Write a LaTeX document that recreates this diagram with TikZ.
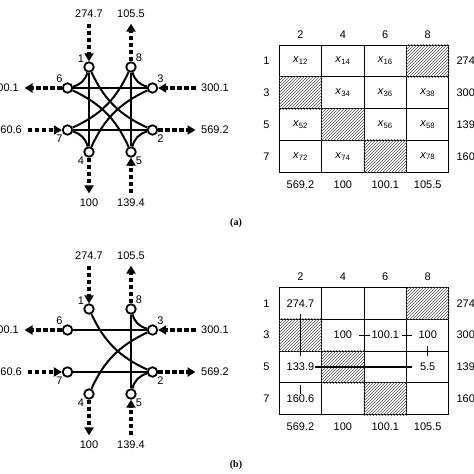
\documentclass[tikz,border=0pt]{standalone}
\usepackage{fontspec}
\setmainfont{Liberation Sans}
\newfontfamily\capfont{Liberation Serif}
\usetikzlibrary{arrows.meta,patterns,positioning}

\begin{document}
\begin{tikzpicture}[x=1pt, y=-1pt,
    junction/.style={circle, draw=black, fill=white, line width=1.8pt, minimum size=9.5pt, inner sep=0pt},
    route/.style={line width=2pt},
    flow/.style={line width=3.2pt, dash pattern=on 4.5pt off 2.5pt, -{Triangle[length=8pt, width=9pt]}},
    amount/.style={font=\fontsize{11}{13}\selectfont, inner sep=5.5pt},
    tag/.style={font=\fontsize{11}{13}\selectfont, inner sep=0pt},
    cell/.style={draw, line width=1pt, minimum width=42.4pt, minimum height=31.8pt, inner sep=0pt},
    blocked/.style={pattern=north east lines, pattern color=black!65},
    val/.style={font=\fontsize{11}{13}\selectfont, inner sep=1pt},
    chain/.style={line width=1.4pt},
    caption/.style={font=\capfont\bfseries\fontsize{10}{12}\selectfont}]

    \useasboundingbox (0,0) rectangle (474,474);

    % network (a)
    \node[junction, label={[tag, label distance=1pt]above left:1}] (a1) at (89,67) {};
    \node[junction, label={[tag, label distance=1pt]above right:8}] (a8) at (131,67) {};
    \node[junction, label={[tag, label distance=1pt]above left:6}] (a6) at (67.5,88) {};
    \node[junction, label={[tag, label distance=1pt]above right:3}] (a3) at (152.5,88) {};
    \node[junction, label={[tag, label distance=1pt]below left:7}] (a7) at (67.5,130) {};
    \node[junction, label={[tag, label distance=1pt]below right:2}] (a2) at (152.5,130) {};
    \node[junction, label={[tag, label distance=1pt]below left:4}] (a4) at (89,152) {};
    \node[junction, label={[tag, label distance=1pt]below right:5}] (a5) at (131,152) {};

    \path [route] (a1) edge (a4);
    \path [route] (a8) edge (a5);
    \path [route] (a6) edge (a3);
    \path [route] (a7) edge (a2);
    \path [route] (a1) edge[bend left=30] (a6);
    \path [route] (a1) edge[bend right=20] (a2);
    \path [route] (a8) edge[bend right=30] (a3);
    \path [route] (a8) edge[bend left=20] (a7);
    \path [route] (a4) edge[bend right=30] (a7);
    \path [route] (a4) edge[bend left=20] (a3);
    \path [route] (a5) edge[bend left=30] (a2);
    \path [route] (a5) edge[bend right=20] (a6);

    \node[amount] (a1in) at (89,14) {274.7};
    \node[amount] (a8out) at (131,14) {105.5};
    \node[amount, anchor=east] (a6out) at (24.5,88) {300.1};
    \node[amount, anchor=east] (a7in) at (27.5,130) {160.6};
    \node[amount, anchor=west] (a3in) at (195.5,88) {300.1};
    \node[amount, anchor=west] (a2out) at (195.5,130) {569.2};
    \node[amount] (a4out) at (89,203) {100};
    \node[amount] (a5in) at (131,203) {139.4};

    \path [flow] (a1in) edge (a1);
    \path [flow] (a8) edge (a8out);
    \path [flow] (a6) edge (a6out);
    \path [flow] (a7in) edge (a7);
    \path [flow] (a3in) edge (a3);
    \path [flow] (a2) edge (a2out);
    \path [flow] (a4) edge (a4out);
    \path [flow] (a5in) edge (a5);

    % network (b)
    \node[junction, label={[tag, label distance=1pt]above left:1}] (b1) at (89,309) {};
    \node[junction, label={[tag, label distance=1pt]above right:8}] (b8) at (131,309) {};
    \node[junction, label={[tag, label distance=1pt]above left:6}] (b6) at (67.5,330) {};
    \node[junction, label={[tag, label distance=1pt]above right:3}] (b3) at (152.5,330) {};
    \node[junction, label={[tag, label distance=1pt]below left:7}] (b7) at (67.5,372) {};
    \node[junction, label={[tag, label distance=1pt]below right:2}] (b2) at (152.5,372) {};
    \node[junction, label={[tag, label distance=1pt]below left:4}] (b4) at (89,394) {};
    \node[junction, label={[tag, label distance=1pt]below right:5}] (b5) at (131,394) {};

    \path [route] (b8) edge (b5);
    \path [route] (b6) edge (b3);
    \path [route] (b7) edge (b2);
    \path [route] (b1) edge[bend right=20] (b2);
    \path [route] (b8) edge[bend right=30] (b3);
    \path [route] (b4) edge[bend left=20] (b3);
    \path [route] (b5) edge[bend left=30] (b2);

    \node[amount] (b1in) at (89,256) {274.7};
    \node[amount] (b8out) at (131,256) {105.5};
    \node[amount, anchor=east] (b6out) at (24.5,330) {300.1};
    \node[amount, anchor=east] (b7in) at (27.5,372) {160.6};
    \node[amount, anchor=west] (b3in) at (195.5,330) {300.1};
    \node[amount, anchor=west] (b2out) at (195.5,372) {569.2};
    \node[amount] (b4out) at (89,445) {100};
    \node[amount] (b5in) at (131,445) {139.4};

    \path [flow] (b1in) edge (b1);
    \path [flow] (b8) edge (b8out);
    \path [flow] (b6) edge (b6out);
    \path [flow] (b7in) edge (b7);
    \path [flow] (b3in) edge (b3);
    \path [flow] (b2) edge (b2out);
    \path [flow] (b4) edge (b4out);
    \path [flow] (b5in) edge (b5);

    % tables
    \foreach \t/\y in {p/60.9, q/303.4} {
        \foreach \r in {1,3,5,7}
            \foreach \c in {2,4,6,8}
                \node[cell] (\t\r\c) at ({300.5+21.2*(\c-2)}, {\y+15.9*(\r-1)}) {};
        \foreach \r/\c in {1/8,3/2,5/4,7/6}
            \fill[blocked] (\t\r\c.south west) rectangle (\t\r\c.north east);
        \foreach \c in {2,4,6,8}
            \node[tag, above=6pt of \t1\c] {\c};
        \foreach \r in {1,3,5,7}
            \node[tag, left=9pt of \t\r2] {\r};
        \foreach \r/\v in {1/274.7,3/300.1,5/139.4,7/160.6}
            \node[tag, right=7pt of \t\r8] {\v};
        \foreach \c/\v in {2/569.2,4/100,6/100.1,8/105.5}
            \node[tag, below=7.5pt of \t7\c] {\v};
    }

    \foreach \r/\c in {1/2,1/4,1/6,3/4,3/6,3/8,5/2,5/6,5/8,7/2,7/4,7/8}
        \node[val] at (p\r\c) {\textit{x}\textsubscript{\r\c}};

    \node[val] (v12) at (q12) {274.7};
    \node[val] (v34) at (q34) {100};
    \node[val] (v36) at (q36) {100.1};
    \node[val] (v38) at (q38) {100};
    \node[val] (v52) at (q52) {133.9};
    \node[val] (v58) at (q58) {5.5};
    \node[val] (v72) at (q72) {160.6};

    \draw[chain, shorten <=6pt, shorten >=5.5pt] (v12) -- (v52);
    \draw[chain, shorten <=13pt] (v52) -- (v72);
    \draw[chain, shorten <=6pt] (v34) -- (v36);
    \draw[chain, shorten <=1.5pt, shorten >=5pt] (v36) -- (v38);
    \draw[chain, shorten <=5.5pt, shorten >=5.5pt] (v38) -- (v58);
    \draw[chain, shorten >=7pt] (v52) -- (v58);

    \node[caption] (capa) at (236,223) {(a)};
    \node[caption] (capb) at (236,465) {(b)};

\end{tikzpicture}
\end{document}
